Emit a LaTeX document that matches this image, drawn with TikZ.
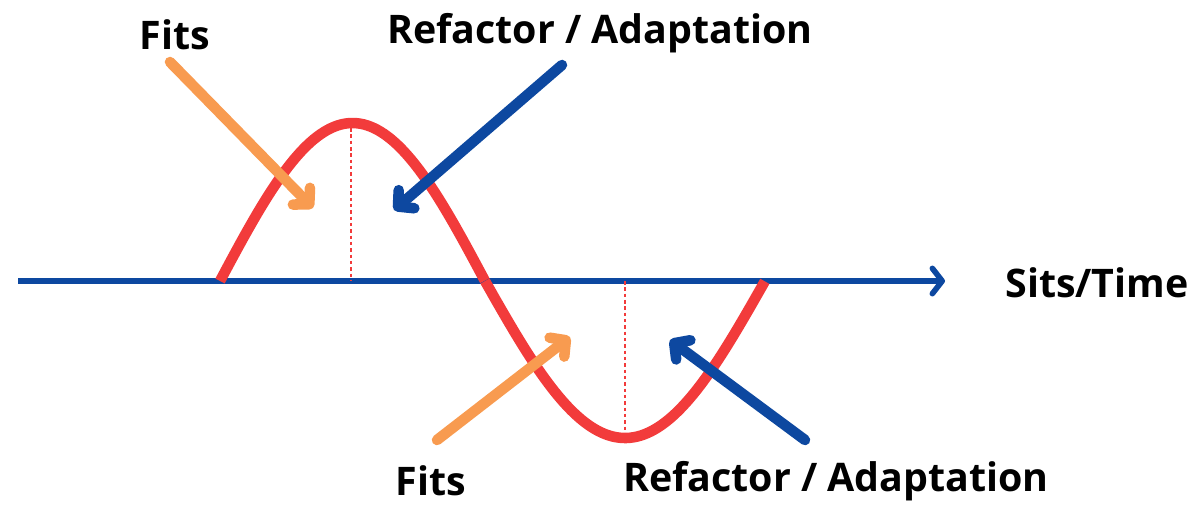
\documentclass[tikz,border=0pt]{standalone}
\usepackage{fontspec}
\setmainfont{Open Sans}
\usetikzlibrary{arrows.meta}
\definecolor{cred}{HTML}{F23B3B}
\definecolor{corange}{HTML}{F89B50}
\definecolor{cblue}{HTML}{0D48A0}
\begin{document}
\begin{tikzpicture}[x=0.025cm,y=-0.025cm,
  lbl/.style={font=\bfseries\fontsize{28}{32}\selectfont, text=black, inner sep=0pt},
  arr/.style={line width=7.5pt, -{Straight Barb[length=8pt,width=17pt,line width=7.5pt,round]}, line cap=round},
  axis/.style={line width=4pt, cblue, -{Straight Barb[length=7pt,width=18pt,line width=4pt,round]}},
  dots/.style={cred, line width=2pt, dash pattern=on 2.5pt off 2pt}]
\useasboundingbox (0,0) rectangle (1200,516);
\coordinate (a0) at (18,281);
\coordinate (a1) at (945,281);
\draw[axis] (a0) -- (a1);
\draw[dots] (351,128) -- (351,281);
\draw[dots] (625,281) -- (625,434);
\draw[cred, line width=7.5pt] plot[domain=0:1, samples=80, smooth] ({220+265*\x},{281-158*sin(180*\x)});
\draw[cred, line width=7.5pt] plot[domain=0:1, samples=80, smooth] ({485+280*\x},{281+157*sin(180*\x)});
\coordinate (o1s) at (170,62); \coordinate (o1e) at (313,208);
\coordinate (b1s) at (562,65); \coordinate (b1e) at (394,210);
\coordinate (o2s) at (437,440); \coordinate (o2e) at (570,337);
\coordinate (b2s) at (805,440); \coordinate (b2e) at (670,340);
\draw[arr, corange] (o1s) -- (o1e);
\draw[arr, cblue] (b1s) -- (b1e);
\draw[arr, corange] (o2s) -- (o2e);
\draw[arr, cblue] (b2s) -- (b2e);
\node[lbl] (t1) at (175,35) {Fits};
\node[lbl] (t2) at (600,33) {Refactor / Adaptation};
\node[lbl] (t3) at (1097,283) {Sits/Time};
\node[lbl] (t4) at (431,481) {Fits};
\node[lbl] (t5) at (836,481) {Refactor / Adaptation};
\end{tikzpicture}
\end{document}
